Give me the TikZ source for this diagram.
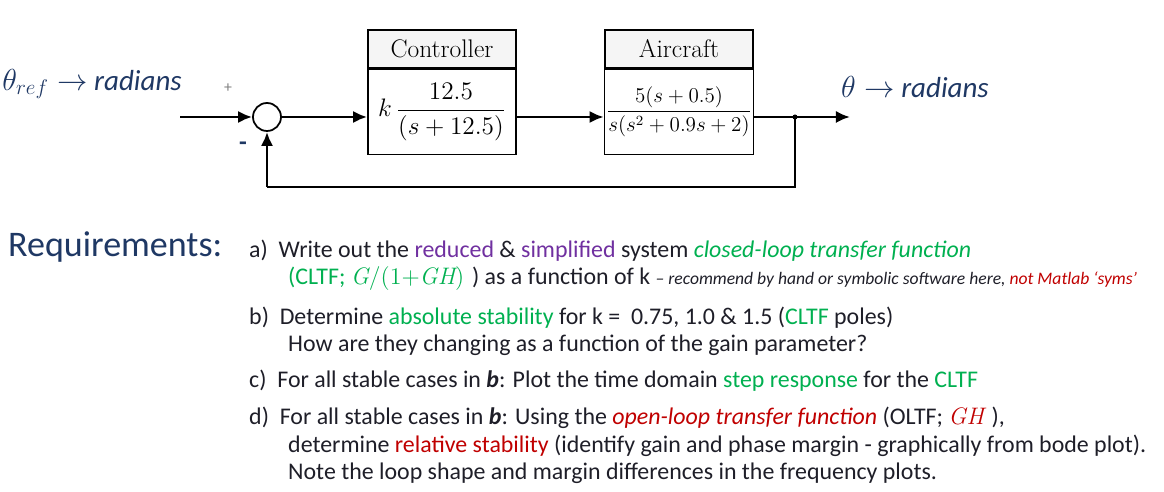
\documentclass[tikz,border=0pt]{standalone}
\usepackage{fontspec}
\setmainfont{Carlito}
\usepackage{amsmath}
\usetikzlibrary{arrows.meta,positioning}
\definecolor{navy}{RGB}{31,56,100}
\definecolor{vio}{RGB}{112,48,160}
\definecolor{grn}{RGB}{0,176,80}
\definecolor{rd}{RGB}{192,0,0}
\definecolor{txt}{RGB}{30,30,40}
\tikzset{
  blk/.style={draw, line width=1pt, minimum width=2.96cm, minimum height=1.7cm, inner sep=1pt, fill=white, font=\fontsize{14}{16}\selectfont},
  ttl/.style={draw, line width=1pt, minimum width=2.96cm, minimum height=0.76cm, fill=gray!8, font=\fontsize{14.5}{16}\selectfont},
  sig/.style={line width=1.6pt, -{Latex[length=8pt,width=7pt]}},
  req/.style={anchor=west, text=txt, font=\fontsize{13.6}{16}\selectfont},
  lbl/.style={text=navy, font=\fontsize{16.5}{19}\selectfont}
}
\begin{document}
\begin{tikzpicture}[x=0.02cm,y=-0.02cm]
    \useasboundingbox (0,0) rectangle (1164,492);

    % block diagram
    \node[circle, draw, line width=1pt, minimum size=0.56cm, inner sep=0] (sum) at (267,117) {};
    \node[blk] (ctrl) at (442,112) {$k\,\dfrac{12.5}{(s+12.5)}$};
    \node[ttl, above=0pt of ctrl] (ctrlT) {\fontspec{Latin Modern Roman}Controller};
    \node[blk, font=\fontsize{11.5}{13}\selectfont] (plant) at (679,112) {$\dfrac{5(s+0.5)}{s(s^2+0.9s+2)}$};
    \node[ttl, above=0pt of plant] (plantT) {\fontspec{Latin Modern Roman}Aircraft};

    \coordinate (in) at (180,117);
    \coordinate (br) at (795,117);
    \coordinate (out) at (850,117);
    \coordinate (fb) at (795,187);
    \coordinate (fbl) at (267,187);

    \draw[sig] (in) -- (sum);
    \draw[sig] (sum) -- (sum -| ctrl.west);
    \draw[sig] (sum -| ctrl.east) -- (sum -| plant.west);
    \draw[sig] (sum -| plant.east) -- (out);
    \draw[line width=1.2pt] (br) -- (fb) -- (fbl);
    \draw[sig] (fbl) -- (sum);
    \fill (br) circle (2.5);

    \node[lbl] (ref) at (92,84) {$\theta_{ref}\rightarrow$ \textit{radians}};
    \node[lbl] (th) at (915,87) {$\theta\rightarrow$ \textit{radians}};
    \node[text=gray, font=\small] (plus) at (228,88) {+};
    \node[text=navy, font=\bfseries\Large] (minus) at (243,146) {-};

    % requirements
    \node[anchor=west, text=navy, font=\fontsize{20.5}{24}\selectfont] (rq) at (2,247) {Requirements:};
    \node[req] (a1) at (243,251) {a)\ \ Write out the \textcolor{vio}{reduced} \& \textcolor{vio}{simplified} system \textcolor{grn}{\itshape closed-loop transfer function}};
    \node[req] (a2) at (282,279) {\textcolor{grn}{(CLTF; \fontspec{Latin Modern Roman}\itshape G\upshape/(1+\itshape GH\upshape) })\ as a function of k \fontsize{10}{12}\selectfont\itshape -- recommend by hand or symbolic software here, \textcolor{rd}{not Matlab ‘syms’}};
    \node[req] (b1) at (243,318) {b)\ \ Determine \textcolor{grn}{absolute stability} for k =\ \ 0.75, 1.0 \& 1.5 (\textcolor{grn}{CLTF} poles)};
    \node[req] (b2) at (282,345) {How are they changing as a function of the gain parameter?};
    \node[req] (c1) at (243,381) {c)\ \ For all stable cases in \textbf{\itshape b}: Plot the time domain \textcolor{grn}{step response} for the \textcolor{grn}{CLTF}};
    \node[req] (d1) at (243,418) {d)\ \ For all stable cases in \textbf{\itshape b}: Using the \textcolor{rd}{\itshape open-loop transfer function} (OLTF; \textcolor{rd}{\fontspec{Latin Modern Roman}\itshape GH\upshape\ })\rlap{,}};
    \node[req] (d2) at (282,446) {determine \textcolor{rd}{relative stability} (identify gain and phase margin - graphically from bode plot).};
    \node[req] (d3) at (282,473) {Note the loop shape and margin differences in the frequency plots.};
\end{tikzpicture}
\end{document}
